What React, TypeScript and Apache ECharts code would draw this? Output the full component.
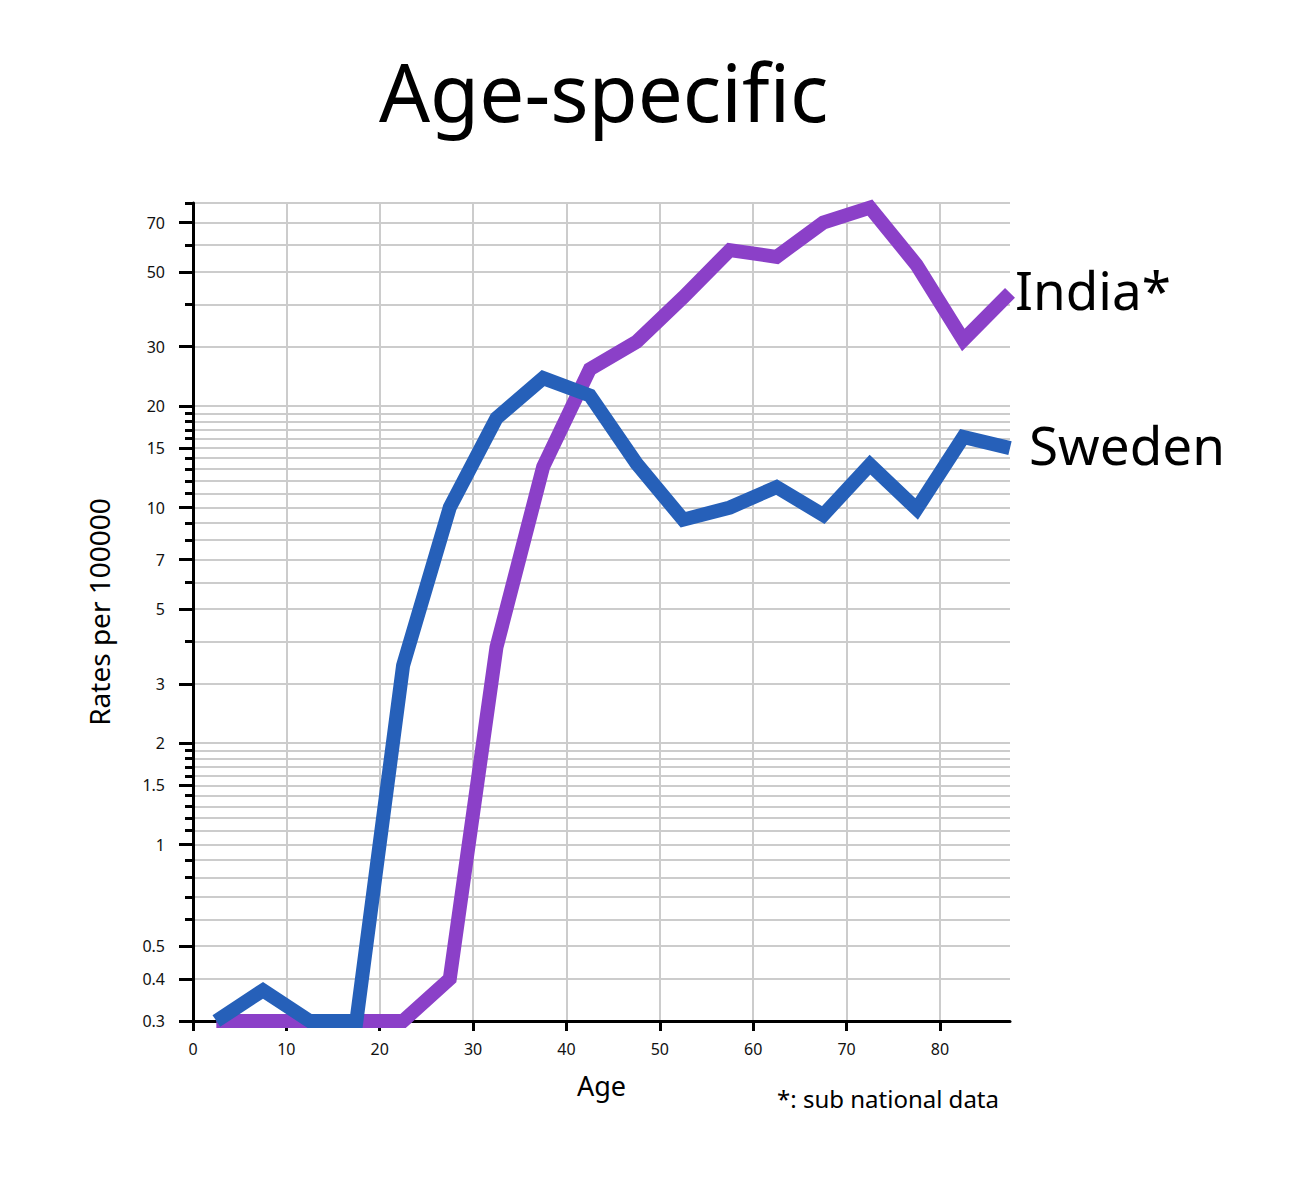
import React, { useEffect, useRef } from 'react';
import * as echarts from 'echarts';

const ages = [2.5, 7.5, 12.5, 17.5, 22.5, 27.5, 32.5, 37.5, 42.5, 47.5, 52.5, 57.5, 62.5, 67.5, 72.5, 77.5, 82.5, 87.5];
const indiaRates = [0.3, 0.3, 0.3, 0.3, 0.3, 0.4, 3.85, 13.2, 25.7, 31, 42, 58, 55.4, 70, 77.5, 52.4, 31.4, 43.3];
const swedenRates = [0.3, 0.37, 0.3, 0.3, 3.4, 10, 18.4, 24.2, 21.5, 13.5, 9.2, 10, 11.5, 9.5, 13.4, 9.9, 16.2, 15];
const xTicks = [0, 10, 20, 30, 40, 50, 60, 70, 80];
const yLabelTicks = [0.3, 0.4, 0.5, 1, 1.5, 2, 3, 5, 7, 10, 15, 20, 30, 50, 70];
const yAllTicks = [
  0.3, 0.4, 0.5, 0.6, 0.7, 0.8, 0.9,
  1, 1.1, 1.2, 1.3, 1.4, 1.5, 1.6, 1.7, 1.8, 1.9, 2,
  3, 4, 5, 6, 7, 8, 9,
  10, 11, 12, 13, 14, 15, 16, 17, 18, 19, 20,
  30, 40, 50, 60, 70, 80,
];

const FONT = 'Noto Sans';

export default function App() {
  const ref = useRef<HTMLDivElement>(null);
  useEffect(() => {
    document.body.style.margin = '0';
    const chart = echarts.init(ref.current!, null, { renderer: 'svg' });
    const fmt = (v: number) => String(+Number(v).toPrecision(6));
    chart.setOption({
      animation: false,
      backgroundColor: '#fff',
      textStyle: { fontFamily: FONT },
      title: {
        text: 'Age-specific',
        left: 379,
        top: 50,
        padding: 0,
        textStyle: { fontSize: 80, fontWeight: 'normal', color: '#000', fontFamily: FONT },
      },
      graphic: [
        {
          type: 'text',
          left: 777,
          top: 1086,
          style: { text: '*: sub national data', fontSize: 24, fill: '#000', fontFamily: FONT },
        },
      ],
      grid: { left: 193, right: 300, top: 203, bottom: 161, containLabel: false },
      xAxis: {
        type: 'value',
        min: 0,
        max: 87.5,
        name: 'Age',
        nameLocation: 'middle',
        nameGap: 51,
        nameTextStyle: { fontSize: 27, color: '#000', fontFamily: FONT },
        axisLine: { show: true, onZero: false, lineStyle: { color: '#000', width: 3 } },
        axisTick: { show: true, length: 10, customValues: xTicks, lineStyle: { color: '#000', width: 3 } },
        axisLabel: { customValues: xTicks, margin: 20, fontSize: 16, color: '#111', fontFamily: FONT },
        splitLine: { show: true, lineStyle: { color: '#cccccc', width: 2 } },
      },
      yAxis: [
        {
          type: 'log',
          logBase: 10,
          min: 0.3,
          max: 80,
          position: 'left',
          name: 'Rates per 100000',
          nameLocation: 'middle',
          nameGap: 80,
          nameRotate: 90,
          nameTextStyle: { fontSize: 28, color: '#000', fontFamily: FONT },
          axisLine: { show: true, onZero: false, lineStyle: { color: '#000', width: 3 } },
          axisTick: { show: true, length: 14, customValues: yLabelTicks, lineStyle: { color: '#000', width: 3 } },
          axisLabel: { customValues: yLabelTicks, margin: 28, fontSize: 16, color: '#111', fontFamily: FONT, formatter: fmt },
          splitLine: { show: false },
          minorTick: { show: false },
        },
        {
          type: 'log',
          logBase: 10,
          min: 0.3,
          max: 80,
          position: 'left',
          axisLine: { show: false, onZero: false },
          axisTick: { show: true, length: 8, customValues: yAllTicks, lineStyle: { color: '#000', width: 3 } },
          axisLabel: { show: false },
          splitLine: { show: true, lineStyle: { color: '#cccccc', width: 2 } },
        },
      ],
      series: [
        {
          name: 'India*',
          type: 'line',
          yAxisIndex: 0,
          data: ages.map((a, i) => [a, indiaRates[i]]),
          symbol: 'none',
          showSymbol: false,
          clip: true,
          lineStyle: { color: '#8b40c8', width: 14, join: 'miter', miterLimit: 10 },
          itemStyle: { color: '#8b40c8' },
          endLabel: {
            show: true,
            formatter: '{a}',
            fontSize: 53,
            color: '#000',
            fontFamily: FONT,
            distance: 5,
            offset: [0, -3],
          },
          z: 3,
        },
        {
          name: 'Sweden',
          type: 'line',
          yAxisIndex: 0,
          data: ages.map((a, i) => [a, swedenRates[i]]),
          symbol: 'none',
          showSymbol: false,
          clip: true,
          lineStyle: { color: '#2660b9', width: 14, join: 'miter', miterLimit: 10 },
          itemStyle: { color: '#2660b9' },
          endLabel: {
            show: true,
            formatter: '{a}',
            fontSize: 53,
            color: '#000',
            fontFamily: FONT,
            distance: 19,
            offset: [0, -4],
          },
          z: 4,
        },
      ],
    });
    return () => chart.dispose();
  }, []);
  return <div ref={ref} style={{ width: 1310, height: 1182 }} />;
}
